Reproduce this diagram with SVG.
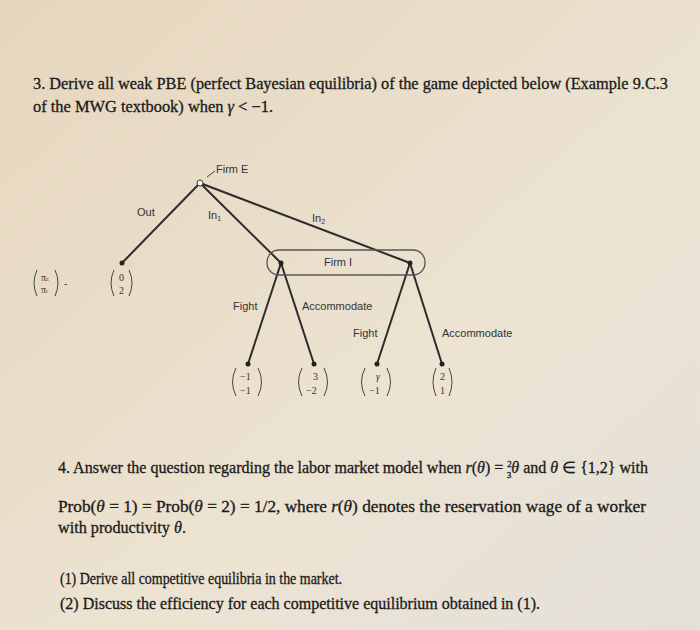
<svg xmlns="http://www.w3.org/2000/svg" width="700" height="630" viewBox="0 0 700 630">
<defs>
<linearGradient id="bg" x1="0" y1="0" x2="1" y2="1">
<stop offset="0" stop-color="#e6d6bd"/><stop offset="0.6" stop-color="#ece3d2"/><stop offset="1" stop-color="#e4e0da"/>
</linearGradient>
</defs>
<style>
.t{font-family:"Liberation Serif",serif;font-size:16px;fill:#1a1a1a;stroke:#1a1a1a;stroke-width:0.3}
.s{font-family:"Liberation Sans Narrow","Liberation Sans",sans-serif;font-size:11px;fill:#333}
.m{font-family:"Liberation Serif",serif;font-size:10px;fill:#333}
.e{stroke:#2b2b2b;stroke-width:2;fill:none}
.p{stroke:#444;stroke-width:1;fill:none}
.d{fill:#222}
</style>
<rect width="700" height="630" fill="url(#bg)"/>
<text class="t" x="33" y="89" textLength="635" lengthAdjust="spacingAndGlyphs">3. Derive all weak PBE (perfect Bayesian equilibria) of the game depicted below (Example 9.C.3</text>
<text class="t" x="33" y="112" textLength="240" lengthAdjust="spacingAndGlyphs">of the MWG textbook) when <tspan font-style="italic">γ</tspan> &lt; −1.</text>
<g id="connectors">
<line class="e" x1="200" y1="183" x2="122" y2="263"/>
<line class="e" x1="200" y1="183" x2="281" y2="263"/>
<line class="e" x1="200" y1="183" x2="410" y2="263"/>
<line class="e" x1="281" y1="263" x2="248" y2="364"/>
<line class="e" x1="281" y1="263" x2="314" y2="364"/>
<line class="e" x1="410" y1="263" x2="377" y2="364"/>
<line class="e" x1="410" y1="263" x2="442" y2="364"/>
<path class="p" d="M207,177 L215,171"/>
</g>
<g id="firmE"><circle cx="200" cy="183" r="3" fill="#fff" stroke="#333"/><text class="s" x="216" y="173">Firm E</text></g>
<text class="s" x="137" y="216">Out</text>
<text class="s" x="208" y="219">In<tspan font-size="7" dy="2">1</tspan></text>
<text class="s" x="312" y="222">In<tspan font-size="7" dy="2">2</tspan></text>
<g id="firmI">
<rect x="267" y="250" width="158" height="25" rx="12" fill="none" stroke="#555" stroke-width="1.3"/>
<circle class="d" cx="281" cy="263" r="2.5"/><circle class="d" cx="410" cy="263" r="2.5"/>
<text class="s" x="324" y="266">Firm I</text>
</g>
<text class="s" x="233" y="310">Fight</text>
<text class="s" x="302" y="310">Accommodate</text>
<text class="s" x="353" y="337">Fight</text>
<text class="s" x="442" y="337">Accommodate</text>
<g id="out"><circle class="d" cx="122" cy="263" r="2.5"/>
<path class="p" d="M37,270 Q31,283 37,296 M55,270 Q61,283 55,296"/>
<text class="m" x="41" y="281" font-size="7">π<tspan font-size="5">E</tspan></text><text class="m" x="41" y="293" font-size="7">π<tspan font-size="5">I</tspan></text>
<text class="m" x="64" y="287">-</text>
<path class="p" d="M114,270 Q108,283 114,296 M129,270 Q135,283 129,296"/>
<text class="m" x="119" y="281">0</text><text class="m" x="119" y="294">2</text>
</g>
<g id="t1"><circle class="d" cx="248" cy="364" r="2.5"/>
<path class="p" d="M236,368 Q229,382 236,396 M258,368 Q265,382 258,396"/>
<text class="m" x="240" y="380">−1</text><text class="m" x="240" y="394">−1</text></g>
<g id="t2"><circle class="d" cx="314" cy="364" r="2.5"/>
<path class="p" d="M302,368 Q295,382 302,396 M324,368 Q331,382 324,396"/>
<text class="m" x="313" y="380">3</text><text class="m" x="306" y="394">−2</text></g>
<g id="t3"><circle class="d" cx="377" cy="364" r="2.5"/>
<path class="p" d="M365,368 Q358,382 365,396 M387,368 Q394,382 387,396"/>
<text class="m" x="376" y="380" font-style="italic">γ</text><text class="m" x="369" y="394">−1</text></g>
<g id="t4"><circle class="d" cx="442" cy="364" r="2.5"/>
<path class="p" d="M436,368 Q430,382 436,396 M449,368 Q455,382 449,396"/>
<text class="m" x="440" y="380">2</text><text class="m" x="440" y="394">1</text></g>
<text class="t" x="58" y="473" font-size="15" textLength="590" lengthAdjust="spacingAndGlyphs">4. Answer the question regarding the labor market model when <tspan font-style="italic">r</tspan>(<tspan font-style="italic">θ</tspan>) = <tspan font-size="9" dy="-6">2</tspan><tspan font-size="9" dx="-5" dy="11">3</tspan><tspan dy="-5" font-style="italic">θ</tspan>  and  <tspan font-style="italic">θ</tspan> ∈ {1,2}  with</text>
<text class="t" x="58" y="512" font-size="15" textLength="588" lengthAdjust="spacingAndGlyphs">Prob(<tspan font-style="italic">θ</tspan> = 1) = Prob(<tspan font-style="italic">θ</tspan> = 2) = 1/2,  where  <tspan font-style="italic">r</tspan>(<tspan font-style="italic">θ</tspan>)  denotes the reservation wage of a worker</text>
<text class="t" x="58" y="533" font-size="15" textLength="128" lengthAdjust="spacingAndGlyphs">with productivity  <tspan font-style="italic">θ</tspan>.</text>
<text class="t" x="60" y="584" font-size="15" textLength="282" lengthAdjust="spacingAndGlyphs">(1) Derive all competitive equilibria in the market.</text>
<text class="t" x="60" y="609" font-size="15" textLength="480" lengthAdjust="spacingAndGlyphs">(2) Discuss the efficiency for each competitive equilibrium obtained in (1).</text>
</svg>
